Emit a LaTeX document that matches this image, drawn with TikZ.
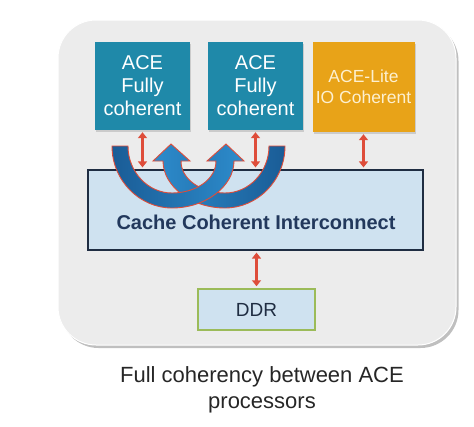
\documentclass[tikz,border=0pt]{standalone}
\usepackage{fontspec}
\setmainfont{Liberation Sans}
\usetikzlibrary{shadows,arrows.meta}
\definecolor{acebl}{RGB}{31,137,169}
\definecolor{liteor}{RGB}{232,163,24}
\definecolor{litetext}{RGB}{253,240,208}
\definecolor{ccifill}{RGB}{207,226,240}
\definecolor{ccinavy}{RGB}{31,45,66}
\definecolor{ccitext}{RGB}{34,56,92}
\definecolor{ddrgreen}{RGB}{155,187,89}
\definecolor{linkred}{RGB}{222,77,58}
\definecolor{swdark}{RGB}{26,92,150}
\definecolor{swlight}{RGB}{45,140,204}
\definecolor{panelgray}{RGB}{236,236,236}
\begin{document}
\begin{tikzpicture}[x=1pt,y=-1pt,
  panel/.style={fill=panelgray,draw=white,line width=1pt,rounded corners=38pt,minimum width=398pt,minimum height=325pt,
    drop shadow={shadow xshift=2.5pt,shadow yshift=-3pt,opacity=.5}},
  ace/.style={fill=acebl,text=white,minimum width=95pt,minimum height=88pt,align=center,
    font=\fontsize{20}{23}\selectfont,drop shadow={shadow xshift=1pt,shadow yshift=-1.5pt,opacity=.3}},
  lite/.style={ace,fill=liteor,text=litetext,minimum width=97pt,minimum height=90pt,font=\fontsize{17.5}{21}\selectfont},
  cci/.style={fill=ccifill,draw=ccinavy,line width=1.2pt,minimum width=335pt,minimum height=80pt},
  ddr/.style={fill=ccifill,draw=ddrgreen,line width=1.5pt,minimum width=117pt,minimum height=41pt,font=\fontsize{19}{22}\selectfont,text=ccinavy},
  link/.style={draw=linkred,line width=2.6pt,{Triangle[length=6pt,width=9pt]}-{Triangle[length=6pt,width=9pt]},shorten <=2pt,shorten >=2pt},
  swoosh/.style={draw=linkred,line width=.9pt}]
\useasboundingbox (0,0) rectangle (474,426);
\node[panel] (board) at (257,182.5) {};
\node[ace] (ace1) at (142.5,86) {ACE\\Fully\\coherent};
\node[ace] (ace2) at (255.5,86) {ACE\\Fully\\coherent};
\node[lite] (lite) at (363.5,87) {ACE-Lite\\IO Coherent};
\node[cci] (cci) at (255.5,210) {};
\node[font=\fontsize{20}{23}\selectfont\bfseries,text=ccitext] (ccilabel) at (256,222) {Cache Coherent Interconnect};
\node[ddr] (ddr) at (256.5,309.5) {DDR};
% snoop arrows between the two ACE masters
\shadedraw[swoosh,left color=swlight,right color=swdark] (285,146) .. controls (285,181) and (257,208) .. (225,208)
  .. controls (191,208) and (163,186) .. (163,161) -- (153,161) -- (171,144) -- (190,161) -- (181,161)
  .. controls (181,180) and (202,193) .. (225,193) .. controls (249,193) and (269,172) .. (269,146) -- cycle;
\shadedraw[swoosh,left color=swdark,right color=swlight] (112,146) .. controls (112,181) and (140,208) .. (172,208)
  .. controls (206,208) and (234,186) .. (234,161) -- (244,161) -- (226,144) -- (207,161) -- (216,161)
  .. controls (216,180) and (195,193) .. (172,193) .. controls (148,193) and (128,172) .. (128,146) -- cycle;
\draw[link] (ace1.south) -- (ace1.south |- cci.north);
\draw[link] (ace2.south) -- (ace2.south |- cci.north);
\draw[link] (lite.south) -- (lite.south |- cci.north);
\draw[link] (ddr.north |- cci.south) -- (ddr.north);
\node[align=center,text=black!85,font=\fontsize{22}{26}\selectfont] (caption) at (262,390) {Full coherency between ACE\\processors};
\end{tikzpicture}
\end{document}
